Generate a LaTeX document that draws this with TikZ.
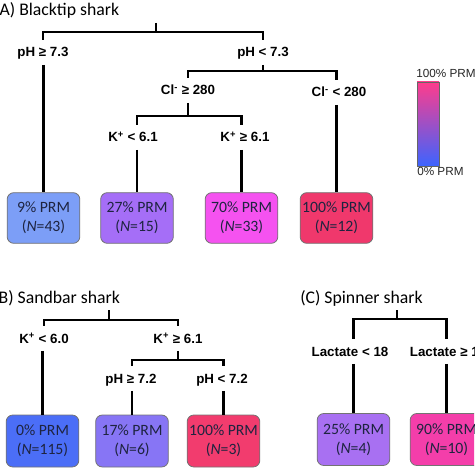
\documentclass[tikz,border=0pt]{standalone}
\usepackage{fontspec}
\setmainfont{Carlito}
\newfontfamily\lblfont{Liberation Sans}
\definecolor{cA1}{HTML}{7C9EF7}
\definecolor{cA2}{HTML}{A56EF7}
\definecolor{cA3}{HTML}{F552F0}
\definecolor{cA4}{HTML}{F0386C}
\definecolor{cB1}{HTML}{4B6EF7}
\definecolor{cB2}{HTML}{8775F5}
\definecolor{cB3}{HTML}{F23C6E}
\definecolor{cC1}{HTML}{A870F2}
\definecolor{cC2}{HTML}{F43EAA}
\definecolor{cbtop}{HTML}{FF3C8C}
\definecolor{cbmid}{HTML}{FF50F5}
\definecolor{cbbot}{HTML}{3C64FF}
\definecolor{textc}{HTML}{1E2440}
\begin{document}
\begin{tikzpicture}[x=0.75pt,y=-0.75pt,
  conn/.style={line width=1.9pt, black},
  cond/.style={font=\lblfont\bfseries\fontsize{10}{12}\selectfont, anchor=base,
    inner xsep=0pt, inner ysep=5.25pt, text height=7.5pt, text depth=0.5pt},
  leaf/.style={draw=black!55, fill=#1, rounded corners=5pt, line width=0.6pt,
    minimum width=54.5pt, minimum height=38pt, align=center, inner sep=1pt,
    text=textc, font=\fontsize{11.8}{14.2}\selectfont},
  ttl/.style={font=\fontsize{13.3}{15}\selectfont, anchor=base west, inner sep=0pt},
  cbl/.style={font=\lblfont\fontsize{8.8}{10}\selectfont, anchor=base west, inner sep=0pt, text=black!85},
]
\useasboundingbox (0,0) rectangle (474,474);
\clip (0,0) rectangle (474,474);

% ---------- (A) Blacktip shark ----------
\node[ttl] (tA) at (-6,16) {(A) Blacktip shark};
\node[cond] (a1) at (43,57) {pH ≥ 7.3};
\node[cond] (a2) at (263,57) {pH < 7.3};
\node[cond] (a3) at (188,95) {Cl\textsuperscript{-} ≥ 280};
\node[cond] (a4) at (339,97) {Cl\textsuperscript{-} < 280};
\node[cond] (a5) at (133,142) {K\textsuperscript{+} < 6.1};
\node[cond] (a6) at (245,142) {K\textsuperscript{+} ≥ 6.1};
\node[leaf=cA1] (b1) at (43.5,218) {9\% PRM\\(\textit{N}=43)};
\node[leaf=cA2] (b2) at (137,218) {27\% PRM\\(\textit{N}=15)};
\node[leaf=cA3] (b3) at (241.5,218) {70\% PRM\\(\textit{N}=33)};
\node[leaf=cA4] (b4) at (336.5,218) {100\% PRM\\(\textit{N}=12)};

\coordinate (a0) at (156,23);
\coordinate (a0b) at (156,32);
\coordinate (a2b) at (263,71);
\coordinate (a3b) at (188,116);
\draw[conn] (a0) -- (a0b);
\draw[conn] (a1.north) |- (a0b) -| (a2.north);
\draw[conn] (a1.south -| b1.north) -- (b1.north);
\draw[conn] (a2.south) -- (a2b);
\draw[conn] (a3.north) |- (a2b) -| (a4.north -| b4.north);
\draw[conn] (a4.south -| b4.north) -- (b4.north);
\draw[conn] (a3.south) -- (a3b);
\draw[conn] (a5.north -| b2.north) |- (a3b) -| (a6.north -| b3.north);
\draw[conn] (a5.south -| b2.north) -- (b2.north);
\draw[conn] (a6.south -| b3.north) -- (b3.north);

% colour bar
\shade[top color=cbtop, middle color=cbmid, bottom color=cbbot, draw=black!60, line width=0.5pt]
  (417,82) rectangle (439,166);
\node[cbl] (cb1) at (416,78) {100\% PRM};
\node[cbl] (cb0) at (417,175) {0\% PRM};

% ---------- (B) Sandbar shark ----------
\node[ttl] (tB) at (-7,303) {(B) Sandbar shark};
\node[cond] (c1) at (44,343) {K\textsuperscript{+} < 6.0};
\node[cond] (c2) at (178,343) {K\textsuperscript{+} ≥ 6.1};
\node[cond] (c3) at (131,383) {pH ≥ 7.2};
\node[cond] (c4) at (222,383) {pH < 7.2};
\node[leaf=cB1, minimum height=39pt] (d1) at (42.5,441) {0\% PRM\\(\textit{N}=115)};
\node[leaf=cB2, minimum height=39pt] (d2) at (132,441) {17\% PRM\\(\textit{N}=6)};
\node[leaf=cB3, minimum height=39pt] (d3) at (223.5,441) {100\% PRM\\(\textit{N}=3)};

\coordinate (c0) at (109,310);
\coordinate (c0b) at (109,320);
\coordinate (c2b) at (178,360);
\draw[conn] (c0) -- (c0b);
\draw[conn] (c1.north) |- (c0b) -| (c2.north);
\draw[conn] (c1.south -| d1.north) -- (d1.north);
\draw[conn] (c2.south) -- (c2b);
\draw[conn] (c3.north -| d2.north) |- (c2b) -| (c4.north -| d3.north);
\draw[conn] (c3.south -| d2.north) -- (d2.north);
\draw[conn] (c4.south -| d3.north) -- (d3.north);

% ---------- (C) Spinner shark ----------
\node[ttl] (tC) at (300,303) {(C) Spinner shark};
\node[cond] (e1) at (350,356) {Lactate < 18};
\node[cond] (e2) at (448,356) {Lactate ≥ 18};
\node[leaf=cC1, minimum height=39pt] (f1) at (353.5,439.5) {25\% PRM\\(\textit{N}=4)};
\node[leaf=cC2, minimum height=39pt] (f2) at (446.5,439.5) {90\% PRM\\(\textit{N}=10)};

\coordinate (e0) at (397,310);
\coordinate (e0b) at (397,319);
\draw[conn] (e0) -- (e0b);
\draw[conn] (e1.north -| f1.north) |- (e0b) -| (e2.north -| f2.north);
\draw[conn] (e1.south -| f1.north) -- (f1.north);
\draw[conn] (e2.south -| f2.north) -- (f2.north);
\end{tikzpicture}
\end{document}
